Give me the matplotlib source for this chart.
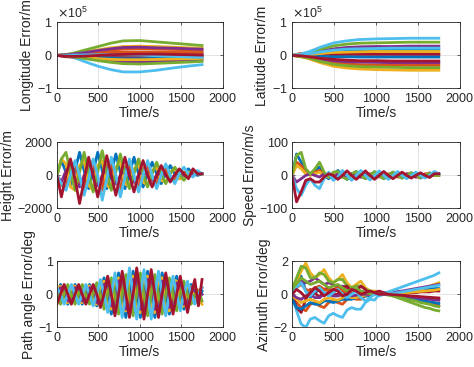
import numpy as np
import matplotlib
matplotlib.use("Agg")
import matplotlib.pyplot as plt

# MATLAB default line colours, in cycle order
matlab_colors = ['#0072BD', '#D95319', '#EDB120', '#7E2F8E',
                 '#77AC30', '#4DBEEE', '#A2142F']

# ---- top row: position errors (km), sampled at top_t ----
top_t = [0, 100, 200, 350, 500, 650, 800, 1000, 1200, 1400, 1600, 1750]

lon_km = [
    [0, 1, 2, 4, 6, 8, 9, 9, 8, 7, 6, 5],
    [0, 1.5, 3.5, 8, 12, 16, 19, 20, 19, 18, 17, 16],
    [0, 2, 5, 11, 17, 23, 27, 28, 27, 25, 23, 22],
    [0, -1, -3, -8, -13, -17, -20, -21, -19, -17, -15, -14],
    [0, 2.5, 7, 17, 27, 37, 44, 45, 41, 37, 33, 30],
    [0, -1.5, -6, -20, -33, -43, -50, -50, -45, -38, -32, -28],
    [0, -4, -5, -5, -6, -6, -5, -4, -2, -1, 0, 1],
    [0, 0.5, 1, -2, -5, -8, -10, -10, -9, -8, -7, -6],
    [0, 1, 3, 5, 7, 9, 10, 10, 10, 9, 9, 9],
    [0, -0.5, -2, -6, -10, -12, -13, -13, -12, -11, -10, -9],
    [0, 1.5, 4, 9, 15, 20, 24, 25, 23, 22, 20, 19],
    [0, -1, -4, -10, -16, -21, -25, -26, -24, -22, -20, -18],
    [0, 0.5, 1, 1.5, 2, 2, 1.5, 1, -1, -3, -5, -6],
    [0, -2, -3, -2, 0, 2, 3, 4, 4, 3, 2, 1],
]

lat_km = [
    [0, 1, 4, 9, 13, 15, 17, 17, 18, 18, 18, 18],
    [0, 6, 4, 3, 4, 4, 5, 5, 5, 5, 5, 5],
    [0, -4, -10, -23, -33, -38, -41, -43, -44, -45, -45, -45],
    [0, 2, 6, 14, 20, 24, 26, 27, 27, 28, 28, 28],
    [0, 3, 9, 20, 29, 34, 37, 38, 39, 40, 40, 40],
    [0, 4, 11, 26, 38, 44, 48, 50, 51, 52, 52, 52],
    [0, -2, 0, 2, 2, 3, 3, 3, 3, 3, 3, 3],
    [0, 0, -1, -3, -4, -4, -5, -5, -5, -5, -5, -5],
    [0, -2, -7, -15, -22, -26, -28, -29, -29, -30, -30, -30],
    [0, 1, 3, 6, 9, 10, 11, 12, 12, 12, 12, 12],
    [0, -2, -5, -11, -16, -19, -20, -21, -22, -22, -22, -22],
    [0, -3, -8, -19, -27, -31, -34, -35, -36, -37, -37, -37],
    [0, 2, 5, 11, 16, 19, 20, 21, 22, 22, 22, 22],
    [0, -1, -4, -9, -12, -14, -16, -16, -17, -17, -17, -17],
]

# ---- height / speed / azimuth: 33 samples over 0..1750 s ----
mid_t = np.linspace(0, 1750, 33)

height_m = [
    [0, 900, 200, -600, 300, 1400, 300, -800, 200, 1400, 300, -800, 200, 1300, 200, -800, 100,
     1100, 100, -700, 100, 800, 100, -500, 100, 600, 100, -200, 100, 400, 100, 0, 100],
    [0, -600, -800, 600, 800, -600, -800, 600, 900, -600, -900, 600, 800, -500, -800, 500, 700,
     -400, -700, 400, 600, -300, -500, 300, 400, -200, -300, 200, 200, 0, 100, 100, 100],
    [0, 1000, 700, -700, -900, 600, 900, -600, -900, 600, 900, -600, -800, 500, 800, -500, -700,
     400, 700, -400, -600, 300, 500, -300, -400, 200, 400, -200, -200, 200, 200, 100, 100],
    [0, -400, 300, 500, -300, -700, 0, 600, 0, -600, 0, 500, 0, -500, 0, 400, 0,
     -400, 0, 300, 0, -300, 0, 200, 0, -200, 0, 200, 0, -100, 100, 100, 100],
    [0, 1000, 1400, 200, -900, 200, 1400, 200, -1000, 200, 1500, 200, -900, 200, 1300, 100, -800,
     100, 1000, 100, -700, 100, 800, 100, -500, 100, 500, 100, -300, 100, 300, 100, 100],
    [0, -500, -900, 0, 900, 0, -1200, -200, 1000, 0, -1500, -200, 1100, 0, -1300, -100, 1000,
     0, -1000, 0, 900, 0, -800, 0, 700, 0, -500, 100, 500, 100, -100, 300, 100],
    [0, -1300, 0, 1000, -200, -1700, -300, 1100, 0, -1300, -100, 1200, 0, -1200, 0, 1100, 0,
     -1000, 0, 900, 0, -700, 0, 600, 50, -400, 50, 400, 100, -200, 400, 100, 100],
]

speed_ms = [
    [0, 65, 40, 10, 5, 15, 25, 0, -10, 0, 15, 0, -12, 0, 12, 0, -10,
     0, 10, 0, -10, 0, 10, 0, -8, 0, 8, 0, -8, 0, 8, 0, 5],
    [0, 40, 30, 10, 5, 10, 15, 5, -5, 5, 5, -5, -5, 5, 5, -5, -5,
     5, 5, -5, -5, 5, 5, -5, -5, 5, 5, -5, -5, 5, 5, 0, 0],
    [0, 30, 20, 5, 0, 5, 10, 0, -5, 0, 8, 0, -8, 0, 8, 0, -6,
     0, 6, 0, -6, 0, 6, 0, -5, 0, 5, 0, -5, 0, 5, 0, 0],
    [0, -20, -10, 0, 5, 0, -5, 5, 0, -5, 5, 0, -5, 5, 0, -5, 5,
     0, -5, 5, 0, -5, 5, 0, -5, 5, 0, -5, 5, 0, -5, 5, 5],
    [0, 60, 70, 20, 5, 20, 40, 10, -5, 10, 12, -5, -12, 5, 12, 0, -10,
     0, 12, 0, -10, 0, 10, 0, -8, 0, 8, 0, -6, 0, 6, 0, 0],
    [0, -40, -60, -30, -10, -30, -40, -10, 10, -15, -5, 15, 0, -15, 0, 15, 0,
     -14, 0, 14, 0, -12, 0, 12, 0, -10, 0, 10, 0, -8, 0, 12, 5],
    [0, -80, -50, -15, -10, -20, -20, -5, 5, 0, -12, 0, 14, 0, -12, 0, 14,
     0, -12, 0, 12, 0, -10, 0, 10, 0, -8, 0, 8, 0, -6, 5, 5],
]

azimuth_deg = [
    [0.3, 0.8, 1.1, 0.2, -0.2, 0.1, 0.3, 0.1, 0.0, 0.2, 0.3, 0.1, 0.0, 0.1, 0.2, 0.1, 0.0,
     0.05, 0.1, 0.1, 0.1, 0.1, 0.1, 0.15, 0.15, 0.2, 0.2, 0.25, 0.25, 0.3, 0.3, 0.35, 0.35],
    [-0.3, -0.5, -0.8, -1.0, -0.6, -0.5, -0.7, -0.8, -0.5, -0.4, -0.5, -0.6, -0.3, -0.2, -0.3, -0.3, -0.1,
     0.0, 0.05, 0.05, 0.0, 0.0, -0.05, -0.1, -0.15, -0.2, -0.3, -0.35, -0.4, -0.5, -0.55, -0.6, -0.7],
    [0.5, 0.8, 1.4, 1.9, 1.3, 1.0, 1.2, 1.5, 1.0, 0.7, 0.9, 1.2, 0.7, 0.4, 0.6, 0.8, 0.4,
     0.2, 0.2, 0.1, 0.05, 0.0, 0.0, 0.0, 0.0, 0.05, 0.1, 0.2, 0.3, 0.4, 0.5, 0.6, 0.7],
    [0.2, 0.5, 0.8, 0.7, 0.8, 1.0, 0.8, 0.6, 0.7, 0.6, 0.4, 0.5, 0.4, 0.2, 0.3, 0.2, 0.1,
     0.05, 0.05, 0.0, 0.0, 0.05, 0.1, 0.15, 0.2, 0.25, 0.3, 0.35, 0.4, 0.45, 0.5, 0.55, 0.6],
    [0.3, 1.0, 1.7, 1.6, 1.0, 1.0, 1.3, 1.2, 0.8, 0.7, 0.9, 0.9, 0.5, 0.4, 0.5, 0.5, 0.3,
     0.2, 0.1, 0.05, 0.0, 0.0, -0.1, -0.2, -0.3, -0.4, -0.5, -0.6, -0.7, -0.8, -0.85, -0.95, -1.0],
    [0.0, -1.0, -1.8, -2.0, -1.5, -1.4, -1.6, -1.75, -1.3, -1.15, -1.3, -1.4, -0.95, -0.8, -0.9, -0.9, -0.5,
     -0.3, -0.35, 0.0, 0.1, 0.15, 0.25, 0.35, 0.45, 0.55, 0.65, 0.75, 0.85, 0.95, 1.05, 1.15, 1.3],
    [0.0, -0.8, -1.1, -0.3, 0.3, 0.1, -0.2, 0.3, 0.4, 0.0, 0.0, 0.4, 0.5, 0.1, 0.2, 0.5, 0.3,
     0.0, 0.1, 0.2, 0.1, 0.0, 0.0, 0.05, 0.05, 0.1, 0.1, 0.1, 0.15, 0.15, 0.15, 0.2, 0.2],
    [-0.3, -0.8, -0.9, -0.7, -0.5, -0.6, -0.6, -0.4, -0.4, -0.5, -0.4, -0.3, -0.3, -0.3, -0.2, -0.1, -0.1,
     -0.1, 0.0, 0.0, 0.0, 0.0, -0.05, -0.1, -0.15, -0.2, -0.25, -0.3, -0.35, -0.4, -0.45, -0.5, -0.55],
    [0.1, 0.4, 0.6, 0.3, 0.2, 0.4, 0.5, 0.3, 0.2, 0.3, 0.4, 0.2, 0.1, 0.2, 0.3, 0.1, 0.0,
     0.05, 0.05, 0.0, 0.0, 0.0, -0.03, -0.05, -0.08, -0.1, -0.13, -0.15, -0.18, -0.2, -0.23, -0.25, -0.3],
    [-0.1, -0.3, -0.5, -0.4, -0.3, -0.4, -0.5, -0.3, -0.2, -0.3, -0.35, -0.2, -0.1, -0.2, -0.2, -0.1, -0.05,
     0.0, 0.0, 0.0, 0.0, 0.0, 0.03, 0.05, 0.08, 0.1, 0.13, 0.15, 0.18, 0.2, 0.23, 0.25, 0.3],
    [0.0, -0.2, -0.3, -0.1, 0.0, -0.2, -0.2, 0.0, 0.0, -0.1, -0.1, 0.0, 0.0, -0.1, -0.05, 0.0, 0.0,
     0.0, 0.0, 0.0, 0.0, -0.02, -0.05, -0.08, -0.1, -0.13, -0.16, -0.2, -0.23, -0.26, -0.3, -0.33, -0.36],
    [0.0, 0.6, 1.0, 0.8, 0.6, 0.7, 0.8, 0.6, 0.4, 0.5, 0.6, 0.4, 0.2, 0.3, 0.35, 0.2, 0.1,
     0.05, 0.05, 0.0, 0.0, -0.05, -0.1, -0.15, -0.2, -0.3, -0.35, -0.4, -0.5, -0.55, -0.6, -0.7, -0.75],
    [0.0, 0.4, 0.7, 0.2, -0.1, 0.2, 0.4, 0.1, -0.1, 0.1, 0.3, 0.0, -0.2, 0.0, 0.2, -0.2, -0.4,
     -0.2, 0.0, -0.1, 0.0, 0.0, 0.05, 0.1, 0.15, 0.2, 0.25, 0.3, 0.35, 0.4, 0.45, 0.5, 0.55],
    [0.0, 0.3, 0.1, -0.2, 0.1, 0.4, 0.2, -0.1, 0.1, 0.3, 0.2, -0.1, 0.0, 0.3, 0.2, 0.0, 0.1,
     0.2, 0.1, 0.0, 0.0, 0.0, -0.02, -0.04, -0.06, -0.08, -0.1, -0.12, -0.14, -0.16, -0.18, -0.2, -0.22],
]

# ---- path angle: 41 samples over 0..1750 s ----
path_t = np.linspace(0, 1750, 41)

path_deg = [
    [0, .3, 0, -.3, 0, .3, 0, -.3, 0, .3, 0, -.35, 0, .5, 0, -.6, 0, .65, 0, -.7, 0,
     .7, 0, -.7, 0, .7, 0, -.7, 0, .65, 0, -.6, 0, .55, 0, -.45, 0, .3, 0, -.3, .1],
    [-.1, -.2, .2, .2, -.2, -.2, .2, .2, -.2, -.2, .25, .25, -.3, -.35, .35, .4, -.4, -.45, .45, .45,
     -.5, -.5, .5, .5, -.5, -.5, .5, .5, -.45, -.45, .45, .4, -.4, -.35, .35, .3, -.3, -.2, .2, .1, .2],
    [.2, .25, -.25, -.25, .25, .25, -.25, -.25, .25, .25, -.25, -.3, .3, .4, -.4, -.45, .45, .5, -.5, -.5,
     .55, .55, -.55, -.55, .55, .55, -.55, -.55, .5, .5, -.5, -.5, .45, .4, -.4, -.35, .3, .2, -.2, -.1, -.3],
    [0, .2, .2, -.2, -.2, .2, .2, -.2, -.2, .2, .2, -.25, -.3, .3, .35, -.35, -.4, .4, .45, -.45,
     -.45, .45, .45, -.45, -.45, .45, .45, -.45, -.45, .4, .4, -.4, -.35, .35, .3, -.3, -.25, .2, .1, -.1, 0],
    [.1, -.3, 0, .3, 0, -.3, 0, .3, 0, -.3, 0, .35, 0, -.45, 0, .5, 0, -.6, 0, .6, 0,
     -.65, 0, .65, 0, -.65, 0, .6, 0, -.6, 0, .5, 0, -.5, 0, .4, 0, -.3, 0, .1, -.2],
    [.2, 0, -.3, 0, .3, 0, -.3, 0, .3, 0, -.35, 0, .45, 0, -.55, 0, .65, 0, -.7, 0, .8,
     0, -.75, 0, .75, 0, -.75, 0, .7, 0, -.65, 0, .55, 0, -.5, 0, .4, 0, -.3, 0, .2],
    [-.3, 0, .3, 0, -.3, 0, .3, 0, -.3, 0, .3, 0, -.4, 0, .55, 0, -.65, 0, .7, 0, -.7,
     0, .8, 0, -.75, 0, .75, 0, -.7, 0, .65, 0, -.6, 0, .55, 0, -.55, 0, .45, -.35, .45],
]

plt.rcParams['font.family'] = ['Liberation Sans', 'DejaVu Sans']
plt.rcParams['font.size'] = 9
plt.rcParams['axes.labelsize'] = 10
plt.rcParams['axes.prop_cycle'] = plt.cycler(color=matlab_colors)

fig = plt.figure(figsize=(4.74, 3.67), dpi=100)

lefts = [0.120, 0.616]
widths = [0.350, 0.354]
bottoms = [0.759, 0.432, 0.108]
h = 0.180


def make_ax(row, col):
    ax = fig.add_axes([lefts[col], bottoms[row], widths[col], h])
    return ax


def style(ax, ylim, yticks, ylabel):
    ax.set_xlim(0, 2000)
    ax.set_xticks([0, 500, 1000, 1500, 2000])
    ax.set_ylim(*ylim)
    ax.set_yticks(yticks)
    ax.grid(True, color='#dfdfdf', lw=0.6)
    ax.set_axisbelow(True)
    for s in ax.spines.values():
        s.set_color('#262626')
        s.set_linewidth(0.6)
    ax.tick_params(direction='in', length=2.5, width=0.5, colors='#262626',
                   top=True, right=True, pad=3)
    ax.set_xlabel('Time/s', color='#262626', labelpad=1)
    ax.set_ylabel(ylabel, color='#262626', labelpad=2)


lw = 2.0

ax = make_ax(0, 0)
for c in lon_km:
    ax.plot(top_t, np.array(c) * 1e3, lw=lw)
style(ax, (-1e5, 1e5), [-1e5, 0, 1e5], 'Longitude Error/m')
ax.ticklabel_format(axis='y', style='sci', scilimits=(0, 0), useMathText=True)

ax = make_ax(0, 1)
for c in lat_km:
    ax.plot(top_t, np.array(c) * 1e3, lw=lw)
style(ax, (-1e5, 1e5), [-1e5, 0, 1e5], 'Latitude Error/m')
ax.ticklabel_format(axis='y', style='sci', scilimits=(0, 0), useMathText=True)

ax = make_ax(1, 0)
for c in height_m:
    ax.plot(mid_t, c, lw=lw)
style(ax, (-2000, 2000), [-2000, 0, 2000], 'Height Error/m')

ax = make_ax(1, 1)
for c in speed_ms:
    ax.plot(mid_t, c, lw=lw)
style(ax, (-100, 100), [-100, 0, 100], 'Speed Error/m/s')

ax = make_ax(2, 0)
for c in path_deg:
    ax.plot(path_t, c, lw=lw)
style(ax, (-1, 1), [-1, 0, 1], 'Path angle Error/deg')

ax = make_ax(2, 1)
for c in azimuth_deg:
    ax.plot(mid_t, c, lw=lw)
style(ax, (-2, 2), [-2, 0, 2], 'Azimuth Error/deg')

fig.savefig('out.png', dpi=100)
